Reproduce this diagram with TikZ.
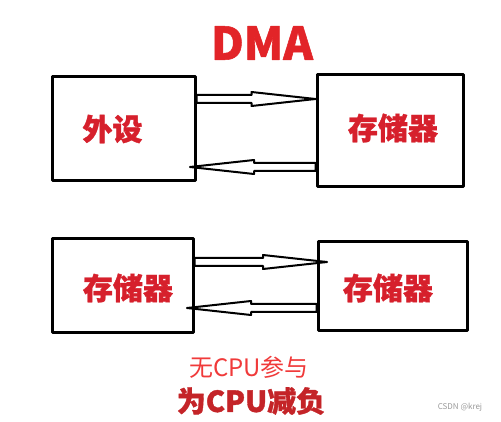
\documentclass[tikz,border=0pt]{standalone}
\usepackage{fontspec}
\setmainfont{Noto Sans CJK SC}
\usepackage{tikz}
\usetikzlibrary{calc}
\definecolor{lblred}{RGB}{214,32,44}
\definecolor{titred}{RGB}{226,36,40}
\definecolor{noted}{RGB}{240,58,58}
\definecolor{sumred}{RGB}{196,36,40}
\newcommand\heavyfont[1]{\bfseries\fontsize{#1}{#1}\selectfont\addfontfeature{FakeBold=1.2}}
\newcommand\hollowarrow[2]{%
  \path (#1) coordinate (ha-s) (#2) coordinate (ha-e)
        ($(ha-e)!64pt!(ha-s)$) coordinate (ha-h);
  \draw[arrowline] ($(ha-s)!4pt!90:(ha-e)$) -- ($(ha-h)!4pt!90:(ha-e)$)
        -- ($(ha-h)!7pt!90:(ha-e)$) -- (ha-e) -- ($(ha-h)!7pt!-90:(ha-e)$)
        -- ($(ha-h)!4pt!-90:(ha-e)$) -- ($(ha-s)!4pt!-90:(ha-e)$) -- cycle;}
\begin{document}
\begin{tikzpicture}[x=1pt,y=-1pt,join=round,
    box/.style={draw=black,line width=3pt,inner sep=0pt},
    lbl/.style={text=lblred,font=\heavyfont{30},inner sep=0pt},
    arrowline/.style={draw=black,fill=white,line width=2pt}]
  \useasboundingbox (0,0) rectangle (501,422);
  \node[text=titred,font=\heavyfont{45},inner sep=0pt] (dma) at (262,43) {DMA};
  % first row
  \node[box,minimum width=143pt,minimum height=104pt] (perA) at (123.5,129) {};
  \node[box,minimum width=146pt,minimum height=112pt] (memB) at (390,131) {};
  \node[lbl] (perAt) at (112.5,129) {外设};
  \node[lbl] (memBt) at (393,128) {存储器};
  % second row
  \node[box,minimum width=141pt,minimum height=93pt] (memC) at (122.5,285.5) {};
  \node[box,minimum width=149pt,minimum height=88pt] (memD) at (392.5,286) {};
  \node[lbl] (memCt) at (128,288) {存储器};
  \node[lbl] (memDt) at (388,288) {存储器};
  \coordinate (tipA) at (190,167);
  \coordinate (tipD) at (327,262);
  \coordinate (tipC) at (187,308);
  \hollowarrow{perA.east |- 0,99}{memB.west |- 0,99}
  \hollowarrow{memB.west |- 0,167}{tipA}
  \hollowarrow{memC.east |- 0,262}{tipD}
  \hollowarrow{memD.west |- 0,308}{tipC}
  \node[text=noted,font=\fontsize{24}{26}\selectfont,inner sep=0pt] (note) at (249,367) {无CPU参与};
  \node[text=sumred,font=\heavyfont{29},inner sep=0pt] (sum) at (251,401) {为CPU减负};
  \node[text=black!40,font=\fontsize{8}{9}\selectfont,inner sep=0pt] (mark) at (460,407) {CSDN @krej};
\end{tikzpicture}
\end{document}
